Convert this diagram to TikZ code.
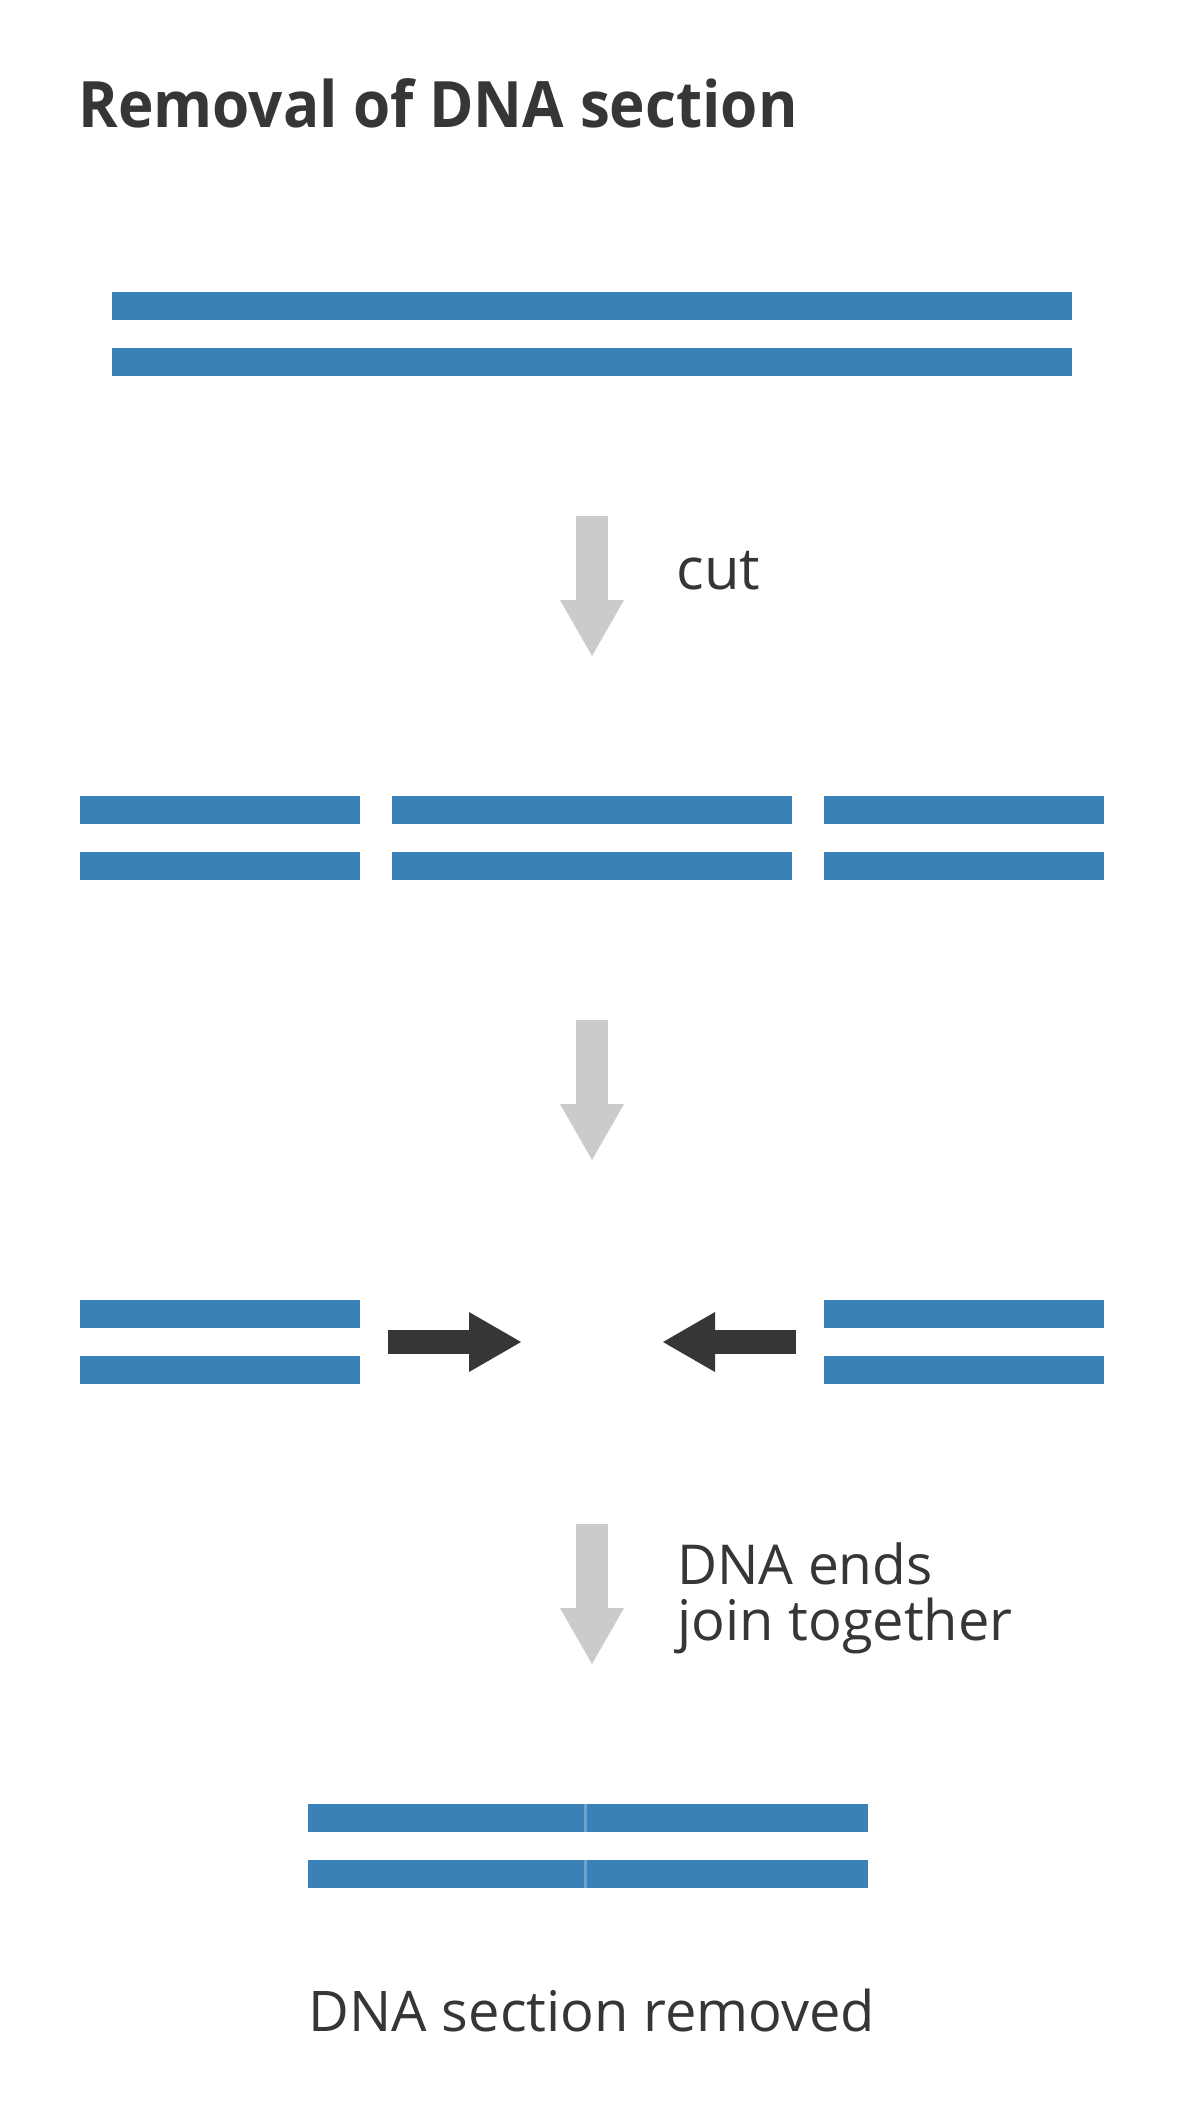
\documentclass[tikz,border=0pt]{standalone}
\usepackage{fontspec}
\setmainfont{Open Sans}
\newfontfamily\headfont[FakeStretch=0.94]{Open Sans}
\usepackage{tikz}
\usetikzlibrary{positioning,arrows.meta}
\definecolor{DNAblue}{HTML}{3A81B7}
\definecolor{DNAseam}{HTML}{6FA1CD}
\definecolor{STEPgray}{HTML}{CBCBCB}
\definecolor{INKdark}{HTML}{363636}
\tikzset{
  strand/.style={fill=DNAblue, inner sep=0pt, outer sep=0pt, minimum height=14pt},
  seamline/.style={draw=DNAseam, line width=1.5pt},
  steparrow/.style={draw=STEPgray, line width=16pt, -{Triangle[length=28pt, width=32pt, line width=0pt]}},
  pusharrow/.style={draw=INKdark, line width=12pt, -{Triangle[length=26pt, width=30pt, line width=0pt]}},
  titletext/.style={font=\headfont\bfseries\fontsize{32}{40}\selectfont, text=INKdark, inner sep=0pt, anchor=base west},
  steptext/.style={font=\fontsize{27.5}{28}\selectfont, text=INKdark, inner sep=0pt, anchor=base west}
}

\begin{document}
\begin{tikzpicture}[x=0.5pt, y=-0.5pt, node distance=14pt]
\useasboundingbox[fill=white] (0,0) rectangle (1184,2112);
\node[titletext] (title) at (78,128) {Removal of DNA section};

% intact double strand
\node[strand, minimum width=480pt] (r1a) at (592,306) {};
\node[strand, minimum width=480pt, below=of r1a] (r1b) {};

\coordinate (s1a) at (592,516);
\coordinate (s1b) at (592,656);
\draw[steparrow] (s1a) -- (s1b);
\node[steptext, font=\fontsize{29}{30}\selectfont] (cut) at (676,589) {cut};

% cut into three pieces
\node[strand, minimum width=140pt] (l2a) at (220,810) {};
\node[strand, minimum width=140pt, below=of l2a] (l2b) {};
\node[strand, minimum width=200pt] (m2a) at (592,810) {};
\node[strand, minimum width=200pt, below=of m2a] (m2b) {};
\node[strand, minimum width=140pt] (r2a) at (964,810) {};
\node[strand, minimum width=140pt, below=of r2a] (r2b) {};

\coordinate (s2a) at (592,1020);
\coordinate (s2b) at (592,1160);
\draw[steparrow] (s2a) -- (s2b);

% middle piece gone, ends move in
\node[strand, minimum width=140pt] (l3a) at (220,1314) {};
\node[strand, minimum width=140pt, below=of l3a] (l3b) {};
\node[strand, minimum width=140pt] (r3a) at (964,1314) {};
\node[strand, minimum width=140pt, below=of r3a] (r3b) {};
\coordinate (pl) at (388,1342);
\coordinate (plt) at (521,1342);
\coordinate (pr) at (796,1342);
\coordinate (prt) at (663,1342);
\draw[pusharrow] (pl) -- (plt);
\draw[pusharrow] (pr) -- (prt);

\coordinate (s3a) at (592,1524);
\coordinate (s3b) at (592,1664);
\draw[steparrow] (s3a) -- (s3b);
\node[steptext] (ends1) at (677,1584) {DNA ends};
\node[steptext, font=\fontsize{28}{28}\selectfont] (ends2) at (677,1640) {join together};

% rejoined strand
\node[strand, minimum width=280pt] (j4a) at (588,1818) {};
\node[strand, minimum width=280pt, below=of j4a] (j4b) {};
\draw[seamline] ([xshift=-1.25pt]j4a.north) -- ([xshift=-1.25pt]j4a.south);
\draw[seamline] ([xshift=-1.25pt]j4b.north) -- ([xshift=-1.25pt]j4b.south);

\node[steptext, anchor=base, font=\fontsize{28}{30}\selectfont] (done) at (592,2031) {DNA section removed};
\end{tikzpicture}
\end{document}
